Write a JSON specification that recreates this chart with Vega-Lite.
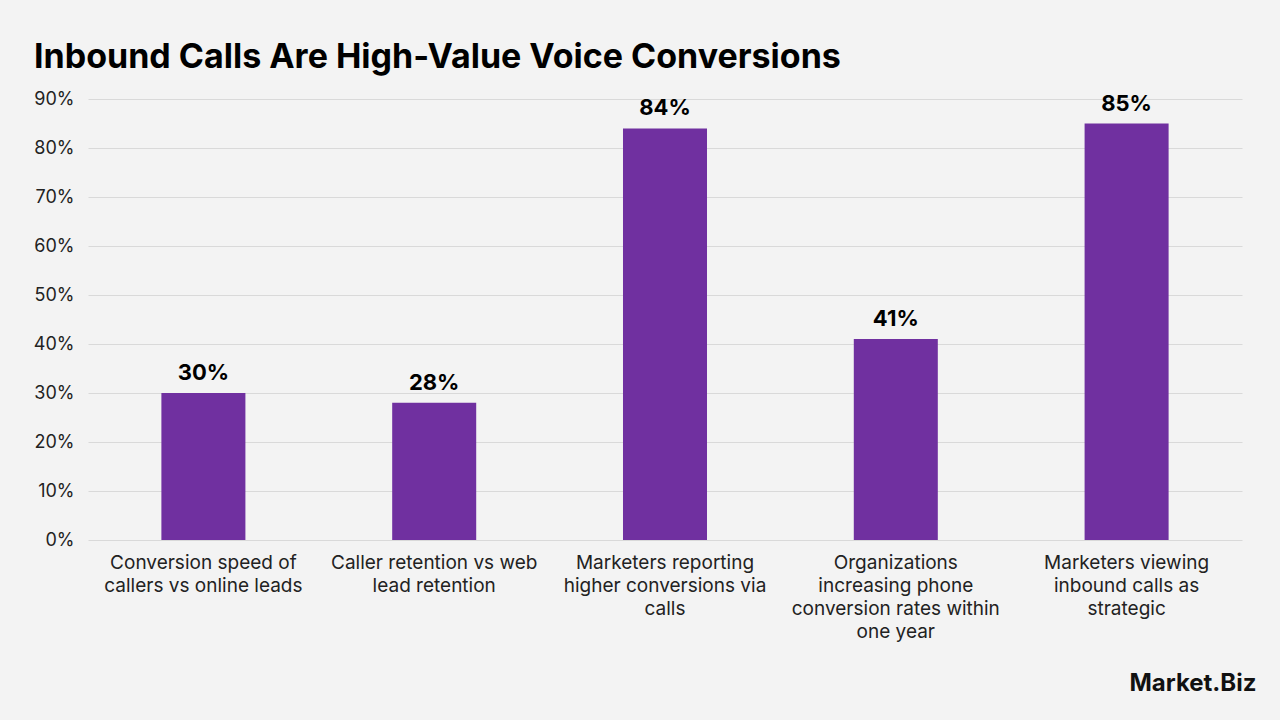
{
  "$schema": "https://vega.github.io/schema/vega-lite/v6.json",
  "width": 1154,
  "height": 441,
  "autosize": {"type": "none"},
  "padding": {"left": 88, "top": 99, "right": 38, "bottom": 180},
  "background": "#f3f3f3",
  "title": {
    "text": "Inbound Calls Are High-Value Voice Conversions",
    "anchor": "start",
    "frame": "group",
    "dx": -54,
    "offset": 15,
    "font": "Inter",
    "fontSize": 34,
    "fontWeight": "bold",
    "color": "#000000"
  },
  "config": {
    "view": {"stroke": null},
    "font": "Inter"
  },
  "data": {
    "values": [
      {"category": "Conversion speed of|callers vs online leads", "share": 0.30},
      {"category": "Caller retention vs web|lead retention", "share": 0.28},
      {"category": "Marketers reporting|higher conversions via|calls", "share": 0.84},
      {"category": "Organizations|increasing phone|conversion rates within|one year", "share": 0.41},
      {"category": "Marketers viewing|inbound calls as|strategic", "share": 0.85}
    ]
  },
  "encoding": {
    "x": {
      "field": "category",
      "type": "nominal",
      "sort": null,
      "scale": {"paddingInner": 0.636, "paddingOuter": 0.318},
      "axis": {
        "title": "Market.Biz",
        "titleAnchor": "end",
        "titleAlign": "right",
        "titleFontSize": 24,
        "titleFontWeight": "bold",
        "titleColor": "#111111",
        "titlePadding": 30,
        "titleX": 1168,
        "labelAngle": 0,
        "labelExpr": "split(datum.label, '|')",
        "labelLimit": 300,
        "labelFontSize": 19,
        "labelColor": "#222222",
        "labelLineHeight": 23,
        "labelPadding": 13,
        "labelBaseline": "top",
        "ticks": false,
        "domain": false,
        "grid": false
      }
    },
    "y": {
      "field": "share",
      "type": "quantitative",
      "scale": {"domain": [0, 0.9]},
      "axis": {
        "title": null,
        "values": [0, 0.1, 0.2, 0.3, 0.4, 0.5, 0.6, 0.7, 0.8, 0.9],
        "format": ".0%",
        "labelFontSize": 18,
        "labelColor": "#222222",
        "labelPadding": 14,
        "ticks": false,
        "domain": false,
        "grid": true,
        "gridColor": "#d9d9d9",
        "gridWidth": 1
      }
    }
  },
  "layer": [
    {
      "mark": {"type": "bar", "color": "#7030a0"}
    },
    {
      "mark": {
        "type": "text",
        "baseline": "bottom",
        "dy": -8,
        "fontSize": 22,
        "fontWeight": "bold",
        "color": "#000000"
      },
      "encoding": {
        "text": {"field": "share", "type": "quantitative", "format": ".0%"}
      }
    }
  ]
}
